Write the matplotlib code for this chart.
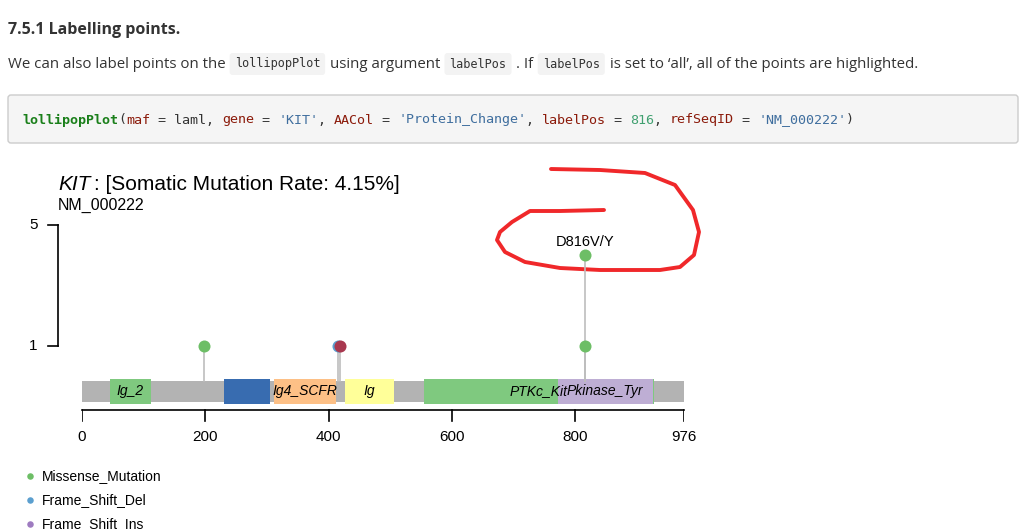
import matplotlib
matplotlib.use("Agg")
import matplotlib.pyplot as plt
from matplotlib.patches import Rectangle, FancyBboxPatch

W, H = 1031, 529
# ---- data ----
protein_len = 976
domain_names = ["Ig_2", "", "Ig4_SCFR", "Ig", "PTKc_Kit", "Pkinase_Tyr"]
domain_start = [45, 230, 312, 427, 554, 771]
domain_end = [112, 304, 412, 506, 928, 925]
domain_colors = ["#7FC97F", "#386CB0", "#FDC086", "#FFFF99", "#7FC97F", "#BEAED4"]
mut_pos = [197, 415, 418, 816, 816]
mut_count = [1, 1, 1, 1, 4]
mut_class = ["Missense_Mutation", "Frame_Shift_Del", "Frame_Shift_Ins_x", "Missense_Mutation", "Missense_Mutation"]
class_colors = {"Missense_Mutation": "#6DBE66", "Frame_Shift_Del": "#5B9FCF",
                "Frame_Shift_Ins_x": "#A8384F"}
label_pos = 816
label_text = "D816V/Y"
xticks = [0, 200, 400, 600, 800, 976]
yticks = [1, 5]
legend_labels = ["Missense_Mutation", "Frame_Shift_Del", "Frame_Shift_Ins"]
legend_colors = ["#6DBE66", "#5B9FCF", "#9E7BC0"]

fig = plt.figure(figsize=(W/100, H/100), dpi=100)
pg = fig.add_axes([0, 0, 1, 1])
pg.set_xlim(0, W); pg.set_ylim(H, 0); pg.axis("off")

ytop_px, ybot_px = 150, 470
ax = fig.add_axes([82/W, 1-ybot_px/H, 602/W, (ybot_px-ytop_px)/H])
ax.set_xlim(0, protein_len)
ax.set_ylim(1 - (ybot_px-346)/30.25, 1 + (346-ytop_px)/30.25)
ax.axis("off")
def py2c(p):
    return 1 - (p - 346) / 30.25

FAM = "Liberation Sans"
# protein bar
ax.add_patch(Rectangle((0, py2c(402)), protein_len, py2c(381)-py2c(402), color="#B3B3B3", lw=0))
for n, s, e, col in zip(domain_names, domain_start, domain_end, domain_colors):
    ax.add_patch(Rectangle((s, py2c(404)), e-s, py2c(379)-py2c(404), color=col, lw=0))
for n, s, e in zip(domain_names, domain_start, domain_end):
    if n:
        ax.text((s+e)/2, py2c(391), n, ha="center", va="center", style="italic", fontsize=10, family=FAM)

# lollipops
for p, c, k in zip(mut_pos, mut_count, mut_class):
    ax.plot([p, p], [py2c(381), c], color="#BDBDBD", lw=1.2, zorder=2)
for p, c, k in zip(mut_pos, mut_count, mut_class):
    ax.scatter([p], [c], s=75, color=class_colors[k], zorder=3, lw=0)
for p, c in zip(mut_pos, mut_count):
    if p == label_pos and c == max(mut_count):
        ax.text(p, c + 0.45, label_text, ha="center", va="center", fontsize=10.5, family=FAM)

# x axis
ax.plot([0, protein_len], [py2c(410)]*2, color="black", lw=1.2, clip_on=False)
for t in xticks:
    ax.plot([t, t], [py2c(410), py2c(421)], color="black", lw=1.2)
    ax.text(t, py2c(437), str(t), ha="center", va="center", fontsize=11, family=FAM)
# y axis
yx = -24/0.6168
ax.plot([yx, yx], [5, 1], color="black", lw=1.2, clip_on=False)
for t in yticks:
    ax.plot([yx, yx - 16], [t, t], color="black", lw=1.2, clip_on=False)
    ax.text(yx - 40, t, str(t), ha="center", va="center", fontsize=11, family=FAM)

# titles
pg.text(58, 184, "KIT", style="italic", fontsize=15, va="center", family=FAM)
pg.text(94, 184, ": [Somatic Mutation Rate: 4.15%]", fontsize=15, va="center", family=FAM)
pg.text(58, 205, "NM_000222", fontsize=11.5, va="center", family=FAM)

# legend
for i, (lab, col) in enumerate(zip(legend_labels, legend_colors)):
    y = 476 + i*24
    pg.scatter([30], [y], s=22, color=col, lw=0)
    pg.text(42, y, lab, fontsize=10, va="center", family=FAM)

# ---- page text ----
fig.canvas.draw()
r = fig.canvas.get_renderer()
def run(x, y, parts, fs, fam):
    for txt, col, kw in parts:
        t = pg.text(x, y, txt, color=col, fontsize=fs, family=fam, va="center", **kw)
        x += t.get_window_extent(r).width
    return x

pg.text(8, 30, "7.5.1 Labelling points.", fontsize=11.5, weight="bold", va="center", family="Open Sans", color="#333333")

def para_piece(x, txt, code=False):
    fam = "DejaVu Sans Mono" if code else "Open Sans"
    fs = 8.6 if code else 10.8
    if code:
        x += 9
    t = pg.text(x, 64, txt, fontsize=fs, family=fam, va="center", color="#333333")
    w = t.get_window_extent(r).width
    if code:
        pg.add_patch(FancyBboxPatch((x-5, 53), w+10, 22, boxstyle="round,pad=0,rounding_size=3",
                                    fc="#F3F3F3", ec="none", zorder=0))
        x += w + 10
    else:
        x += w
    return x

x = 8
for txt, code in [("We can also label points on the", False), ("lollipopPlot", True),
                  ("using argument", False), ("labelPos", True), (". If", False),
                  ("labelPos", True), ("is set to \u2018all\u2019, all of the points are highlighted.", False)]:
    x = para_piece(x, txt, code)

pg.add_patch(FancyBboxPatch((8, 95), 1010, 48, boxstyle="round,pad=0,rounding_size=3",
                            fc="#F5F5F5", ec="#CCCCCC", lw=1, zorder=0))
code_parts = [("lollipopPlot", "#1A7F1A", {"weight": "bold"}), ("(", "#333333", {}),
              ("maf", "#8B1A0A", {}), (" = laml, ", "#333333", {}), ("gene", "#8B1A0A", {}),
              (" = ", "#333333", {}), ("'KIT'", "#3F6E9E", {}), (", ", "#333333", {}),
              ("AACol", "#8B1A0A", {}), (" = ", "#333333", {}), ("'Protein_Change'", "#3F6E9E", {}),
              (", ", "#333333", {}), ("labelPos", "#8B1A0A", {}), (" = ", "#333333", {}),
              ("816", "#40A070", {}), (", ", "#333333", {}), ("refSeqID", "#8B1A0A", {}),
              (" = ", "#333333", {}), ("'NM_000222'", "#3F6E9E", {}), (")", "#333333", {})]
run(22, 120, code_parts, 9.6, "DejaVu Sans Mono")

# red freehand annotation
rx = [551, 600, 645, 675, 693, 699, 694, 680, 660, 600, 560, 525, 505, 497, 500, 512, 530, 560, 604]
ry = [169, 170, 173, 185, 210, 232, 255, 267, 270, 270, 268, 262, 252, 240, 232, 222, 211, 211, 210]
pg.plot(rx, ry, color="#F0282A", lw=2.8, solid_capstyle="round", solid_joinstyle="round")

fig.savefig("out.png", dpi=100)
